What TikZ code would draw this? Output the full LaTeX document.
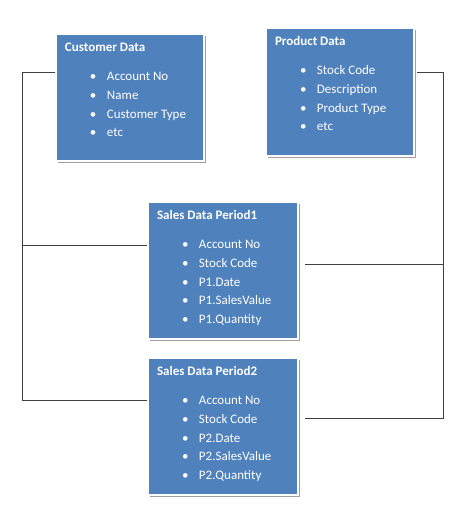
\documentclass[tikz,border=0pt]{standalone}
\usepackage{fontspec}
\setmainfont{Carlito}
\usepackage{tikz}
\usetikzlibrary{shadows,calc}
\definecolor{boxblue}{HTML}{4F81BD}
\definecolor{conline}{HTML}{404040}
\definecolor{shd}{HTML}{A0A0A0}
% box text: width, height, title, items
\newcommand{\boxtxt}[4]{%
  \begin{minipage}[t][#2][t]{#1}\fontsize{13pt}{18.8pt}\selectfont
  \hspace*{9pt}\rule{0pt}{17pt}\textbf{#3}\par\vspace{10.7pt}%
  #4%
  \end{minipage}}
\newcommand{\itm}[1]{\par\hspace*{34pt}\makebox[17pt][l]{\textbullet}#1}
\tikzset{
  blk/.style={rectangle, inner sep=0pt, fill=boxblue, draw=white, line width=2pt,
    text=white, drop shadow={shadow xshift=2pt, shadow yshift=-2pt, fill=shd, opacity=1}},
  con/.style={draw=conline, line width=0.8pt},
}
\begin{document}
\begin{tikzpicture}[x=1pt,y=1pt]
\useasboundingbox (0,0) rectangle (474,-523);
\node[blk, anchor=north west] (cust) at (55,-33)
  {\boxtxt{148pt}{127pt}{Customer Data}{\itm{Account No}\itm{Name}\itm{Customer Type}\itm{etc}}};
\node[blk, anchor=north west] (prod) at (265,-27)
  {\boxtxt{148pt}{128pt}{Product Data}{\itm{Stock Code}\itm{Description}\itm{Product Type}\itm{etc}}};
\node[blk, anchor=north west] (sale1) at (147,-201)
  {\boxtxt{150pt}{137pt}{Sales Data Period1}{\itm{Account No}\itm{Stock Code}\itm{P1.Date}\itm{P1.SalesValue}\itm{P1.Quantity}}};
\node[blk, anchor=north west] (sale2) at (147,-357)
  {\boxtxt{150pt}{137pt}{Sales Data Period2}{\itm{Account No}\itm{Stock Code}\itm{P2.Date}\itm{P2.SalesValue}\itm{P2.Quantity}}};
% left bus
\coordinate (lb) at (22,-400);
\coordinate (c1) at ([yshift=-39pt]cust.north west);
\coordinate (s1l) at ([yshift=-44pt]sale1.north west);
\draw[con] (c1) -| (lb) -- (lb -| sale2.west);
\draw[con] (s1l) -- (s1l -| lb);
% right bus
\coordinate (rb) at (443,-418);
\coordinate (p1) at ([xshift=2pt,yshift=-45pt]prod.north east);
\coordinate (s1r) at ($([yshift=-63pt]sale1.north east)+(6,0)$);
\coordinate (s2r) at ($(sale2.east |- rb)+(6,0)$);
\draw[con] (p1) -| (rb) -- (s2r);
\draw[con] (s1r) -- (s1r -| rb);
\end{tikzpicture}
\end{document}
